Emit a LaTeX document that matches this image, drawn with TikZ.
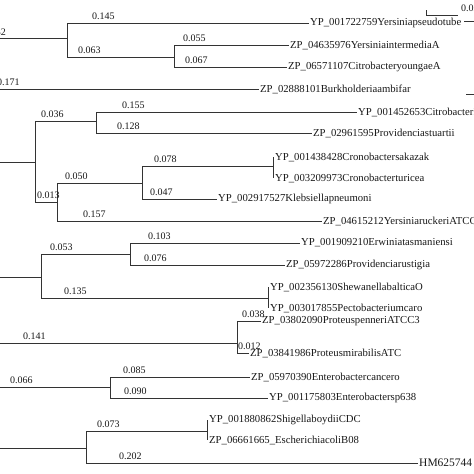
\documentclass[tikz,border=0pt]{standalone}
\usepackage{fontspec}
\setmainfont{Liberation Serif}
\begin{document}
\begin{tikzpicture}[x=1pt,y=-1pt,
  br/.style={draw=black!80,line width=1pt},
  leaf/.style={anchor=west,inner sep=1pt,text=black!90,font=\fontsize{10.7}{12}\selectfont},
  blen/.style={anchor=base west,inner sep=0pt,text=black!90,font=\fontsize{10}{12}\selectfont}]
\useasboundingbox (0,0) rectangle (474,474);
\clip (0,0) rectangle (474,474);
\fill[white] (0,0) rectangle (474,474);

% ---------- clade 1 ----------
\coordinate (r1) at (0,38);
\coordinate (n1) at (67,38);
\coordinate (n2) at (174,57);
\node[leaf] (yp1) at (309,23) {YP\_001722759Yersiniapseudotube};
\node[leaf] (zp1) at (289,45) {ZP\_04635976YersiniaintermediaA};
\node[leaf] (zp2) at (287,67) {ZP\_06571107CitrobacteryoungaeA};
\draw[br] (r1) -- (n1);
\draw[br] (n1) |- (yp1.west);
\draw[br] (n1) |- (n2);
\draw[br] (n2) |- (zp1.west);
\draw[br] (n2) |- (zp2.west);
\node[blen,anchor=base east] (l0) at (6,35) {0.032};
\node[blen] (l1) at (92,19.5) {0.145};
\node[blen] (l2) at (78,53.5) {0.063};
\node[blen] (l3) at (183,41.5) {0.055};
\node[blen] (l4) at (185,63.5) {0.067};

% ---------- single branch ----------
\coordinate (r2) at (0,89);
\node[leaf] (zp3) at (259,89) {ZP\_02888101Burkholderiaambifar};
\draw[br] (r2) -- (zp3.west);
\node[blen] (l5) at (-3,85.5) {0.171};

% ---------- clade 2 ----------
\coordinate (r3) at (0,162);
\coordinate (n3) at (35,162);
\coordinate (n4) at (96,121);
\coordinate (n5) at (57,202);
\coordinate (n6) at (142,183);
\coordinate (n7) at (273,166);
\node[leaf] (yp2) at (357,112) {YP\_001452653CitrobacterK};
\node[leaf] (zp4) at (312,133) {ZP\_02961595Providenciastuartii};
\node[leaf,inner xsep=2pt] (yp3) at (273,157) {YP\_001438428Cronobactersakazak};
\node[leaf,inner xsep=2pt] (yp4) at (273,178) {YP\_003209973Cronobacterturicea};
\node[leaf] (yp5) at (217,199) {YP\_002917527Klebsiellapneumoni};
\node[leaf] (zp5) at (322,221) {ZP\_04615212YersiniaruckeriATCC};
\draw[br] (r3) -- (n3);
\draw[br] (n3) |- (n4);
\draw[br] (n3) |- (n5);
\draw[br] (n4) |- (yp2.west);
\draw[br] (n4) |- (zp4.west);
\draw[br] (n5) |- (n6);
\draw[br] (n5) |- (zp5.west);
\draw[br] (n6) |- (n7);
\draw[br] (n6) |- (yp5.west);
\draw[br] (n7) -- (yp3.west);
\draw[br] (n7) -- (yp4.west);
\node[blen] (l6) at (41,117.5) {0.036};
\node[blen] (l7) at (122,108.5) {0.155};
\node[blen] (l8) at (117,129.5) {0.128};
\node[blen] (l9) at (37,198.5) {0.013};
\node[blen] (l10) at (65,179.5) {0.050};
\node[blen] (l11) at (154,162.5) {0.078};
\node[blen] (l12) at (150,195.5) {0.047};
\node[blen] (l13) at (83,217.5) {0.157};

% ---------- clade 3 ----------
\coordinate (r4) at (0,277);
\coordinate (n8) at (41,277);
\coordinate (n9) at (130,254);
\coordinate (n10) at (268,298);
\node[leaf] (yp6) at (300,243) {YP\_001909210Erwiniatasmaniensi};
\node[leaf] (zp6) at (285,265) {ZP\_05972286Providenciarustigia};
\node[leaf,inner xsep=2pt] (yp7) at (268,287) {YP\_002356130ShewanellabalticaO};
\node[leaf,inner xsep=2pt] (yp8) at (268,308) {YP\_003017855Pectobacteriumcaro};
\draw[br] (r4) -- (n8);
\draw[br] (n8) |- (n9);
\draw[br] (n8) |- (n10);
\draw[br] (n9) |- (yp6.west);
\draw[br] (n9) |- (zp6.west);
\draw[br] (n10) -- (yp7.west);
\draw[br] (n10) -- (yp8.west);
\node[blen] (l14) at (50,250.5) {0.053};
\node[blen] (l15) at (148,239.5) {0.103};
\node[blen] (l16) at (144,261.5) {0.076};
\node[blen] (l17) at (64,294.5) {0.135};

% ---------- clade 4 ----------
\coordinate (r5) at (0,343);
\coordinate (n11) at (237,343);
\node[leaf] (zp7) at (261,321) {ZP\_03802090ProteuspenneriATCC3};
\node[leaf] (zp8) at (249,353) {ZP\_03841986ProteusmirabilisATC};
\draw[br] (r5) -- (n11);
\draw[br] (n11) |- (zp7.west);
\draw[br] (n11) |- (zp8.west);
\node[blen] (l18) at (23,339.5) {0.141};
\node[blen] (l19) at (242,317.5) {0.038};
\node[blen] (l20) at (238,349.5) {0.012};

% ---------- clade 5 ----------
\coordinate (r6) at (0,387);
\coordinate (n12) at (110,387);
\node[leaf] (zp9) at (250,377) {ZP\_05970390Enterobactercancero};
\node[leaf] (yp9) at (268,398) {YP\_001175803Enterobactersp638};
\draw[br] (r6) -- (n12);
\draw[br] (n12) |- (zp9.west);
\draw[br] (n12) |- (yp9.west);
\node[blen] (l21) at (10,383.5) {0.066};
\node[blen] (l22) at (123,373.5) {0.085};
\node[blen] (l23) at (124,394.5) {0.090};

% ---------- clade 6 ----------
\coordinate (r7) at (0,448);
\coordinate (n13) at (86,448);
\coordinate (n14) at (207,431);
\node[leaf,inner xsep=2pt] (yp10) at (207,420) {YP\_001880862ShigellaboydiiCDC};
\node[leaf,inner xsep=2pt] (zp10) at (207,440) {ZP\_06661665\_EscherichiacoliB08};
\node[leaf,font=\fontsize{11.5}{13}\selectfont] (hm) at (418,463) {HM625744};
\draw[br] (r7) -- (n13);
\draw[br] (n13) |- (n14);
\draw[br] (n13) |- (hm.west);
\draw[br] (n14) -- (yp10.west);
\draw[br] (n14) -- (zp10.west);
\node[blen] (l24) at (97,427.5) {0.073};
\node[blen] (l25) at (119,459.5) {0.202};

% ---------- scale bar and cut-off fragments ----------
\coordinate (s1) at (426,15);
\coordinate (s2) at (458,15);
\coordinate (s3) at (426,10);
\draw[br] (s3) -- (s1) -- (s2);
\node[blen] (sl) at (461,11) {0.02};
\coordinate (f1) at (464,21);
\coordinate (f2) at (474,21);
\draw[br] (f1) -- (f2);
\coordinate (f3) at (466,94);
\coordinate (f4) at (474,94);
\draw[br] (f3) -- (f4);
\end{tikzpicture}
\end{document}
